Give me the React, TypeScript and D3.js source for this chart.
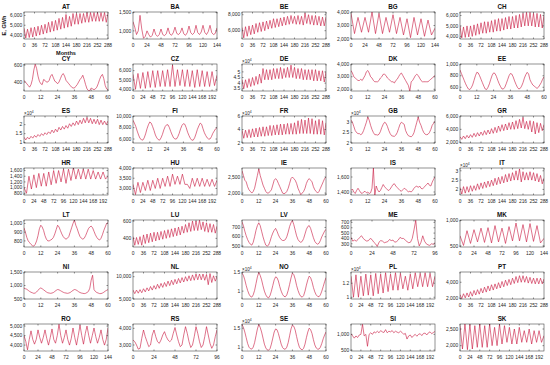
import React from "react";
import * as d3 from "d3";

// ---- tick label lists ----
const X288 = [0, 36, 72, 108, 144, 180, 216, 252, 288];
const X144 = [0, 24, 48, 72, 96, 120, 144];
const X204 = [0, 24, 48, 72, 96, 120, 144, 168, 192];
const X96 = [0, 24, 48, 72, 96];
const X60 = [0, 12, 24, 36, 48, 60];

// ---- series (E, GWh) ----
const AT = [4700,3700,4600,3750,4750,3800,4800,3900,4900,4000,5000,4100,5100,4200,5300,4300,5400,4400,5500,4500,5700,4600,5800,4700,6100,4800,5900,4900,6200,5100,6200,5100,6200,5200,6200,5300,6300,5300,6300,5400,6300,5400,6300,5400,6300,5400,6300,5300,6200];
const BA = [1250,1100,900,1000,1420,1050,800,850,1000,900,830,880,1050,900,850,900,1050,900,870,920,1080,920,880,950,1100,930,900,950,1080,920,880,950,1130,950,900,950,1150,950,900,970,1150,960,900,980,1150,950,900,930,1080];
const BE = [6400,5100,6500,5300,6600,5500,6700,5600,6900,5800,7000,5900,7100,6000,7200,6200,7300,6300,7500,6400,7500,6500,7600,6600,7700,6700,7800,6800,7900,6900,7800,6800,7900,6800,7800,6700,8200,6900,8000,6800,7900,6700,7900,6700,7800,6600,7700,6600,7700];
const BG = [3900,2400,3600,2500,3600,2500,4000,2400,3900,2400,3600,2500,3800,2400,3600,2300,3500,2100,3600,2300,3500,2200,3400,2300,2800];
const CH = [5000,3850,4900,3900,5000,3950,5000,4000,5100,4100,5200,4200,5300,4300,5400,4300,5400,4400,5500,4400,5600,4500,5700,4500,5700,4600,5800,4700,5900,4700,5900,4800,6000,4800,6100,4900,6200,5000,6300,5000,6300,5000,6200,4900,6200,4900,6100,4800,6000];
const CY = [420,400,380,360,340,370,430,540,610,560,470,410,380,370,430,420,400,400,420,470,490,450,410,400,380,400,440,480,500,470,420,400,380,360,340,330,330,350,370,400,430,450,480,430,370,320,300,300,330,320,310,320,340,380,430,470,490,440,360,320,310];
const CZ = [5600,4000,5700,4100,5800,4100,5900,4200,6000,4200,6000,4300,6000,4300,6100,4300,6600,4300,6100,4400,6100,4300,6100,4300,6000,4200,6100,4300,6000,4300,5900,4300,5900,4400,5500];
const DE = [4.3,3.5,4.3,3.6,4.4,3.7,4.5,3.8,4.6,3.9,4.8,4.0,5.3,4.3,5.2,4.3,5.2,4.3,5.3,4.4,5.3,4.4,5.4,4.4,5.3,4.5,5.4,4.5,5.6,4.5,5.4,4.4,5.3,4.4,5.3,4.3,5.2,4.3,5.2,4.3,5.2,4.2,5.2,4.2,5.1,4.2,5.1,4.1,5.0];
const DK = [3500,3300,3000,2900,2800,2700,2700,2800,2700,2900,3100,3400,3500,3300,3000,2900,2700,2600,2600,2600,2700,2900,3000,3200,3200,3100,2900,2800,2700,2600,2600,2500,2700,2800,3000,3200,3300,3100,2900,2700,2500,2300,1850,2600,2700,2900,3100,3200,3100,2900,2700,2600,2600,2600,2600,2600,2700,2800,2900,3000,3100];
const EE = [900,840,780,720,660,610,570,560,590,640,720,800,860,850,800,740,680,620,570,560,600,660,740,810,850,840,790,720,660,610,570,570,600,660,730,800,840,830,780,710,650,600,570,580,620,680,760,820,860,830,730,680,640,620,600,580,600,640,680,740,780];
const ES = [1.3,1.15,1.3,1.2,1.35,1.25,1.4,1.3,1.45,1.35,1.5,1.4,1.55,1.45,1.6,1.5,1.7,1.55,1.75,1.6,1.85,1.7,1.9,1.75,1.95,1.8,2.05,1.9,2.1,1.95,2.2,2.0,2.25,2.05,2.35,2.1,2.4,2.1,2.35,2.05,2.3,2.05,2.3,2.0,2.25,2.0,2.2,2.0,2.2];
const FI = [9300,8800,8200,7400,6700,6100,5900,5800,6200,6900,7800,8500,9000,8800,8200,7500,6700,6200,5900,5800,6200,6800,7600,8200,8500,8500,8000,7300,6700,6200,6000,6000,6400,7000,7800,8400,8700,8600,8000,7200,6600,6100,5800,5800,6200,6900,7700,8300,8800,8600,7800,7100,6600,6200,6000,6000,6400,7000,7400,7800,8000];
const FR = [3.9,2.7,3.9,2.8,4.0,2.8,4.1,2.9,4.2,2.9,4.3,3.0,4.4,3.0,4.4,3.1,4.6,3.1,4.6,3.2,4.7,3.2,4.8,3.2,4.8,3.3,4.9,3.3,4.9,3.3,5.0,3.3,5.3,3.4,5.5,3.4,5.4,3.4,5.7,3.4,5.6,3.3,5.3,3.3,5.5,3.3,5.3,3.2,5.0];
const GB = [3.1,3.0,2.8,2.6,2.5,2.45,2.45,2.4,2.45,2.6,2.8,3.0,3.25,3.1,2.85,2.65,2.5,2.4,2.4,2.38,2.42,2.55,2.75,2.9,3.0,2.95,2.8,2.6,2.45,2.35,2.33,2.32,2.38,2.5,2.7,2.9,3.0,2.95,2.9,2.6,2.45,2.35,2.32,2.3,2.36,2.5,2.75,3.0,3.25,3.0,2.85,2.65,2.5,2.42,2.4,2.42,2.5,2.65,2.85,2.95,3.05];
const GR = [2900,2500,3000,2600,3100,2700,3200,2800,3400,2900,3500,3000,3600,3100,3800,3200,3900,3300,4100,3400,4300,3500,4500,3700,4700,3800,4800,3900,5000,4000,5100,4000,5300,4100,5500,4200,5800,4100,5200,4000,5300,3600,5200,3300,5000,3500,4900,3800,4700];
const HR = [1000,800,1400,950,1450,1000,1500,1050,1500,1050,1550,1100,1600,1150,1600,1200,1650,1150,1650,1250,1700,1300,1650,1300,1650,1300,1650,1300,1600,1300,1550,1300,1550,1300,1400];
const HU = [3200,2700,3300,2800,3300,2900,3400,2900,3400,3000,3500,3000,3500,3100,3600,3100,3700,3200,3600,3200,3700,3200,3200,3000,3500,3100,3500,3100,3500,3100,3450,3100,3450,3100,3400];
const IE = [2700,2550,2400,2350,2200,2100,2050,2000,2050,2150,2350,2550,2750,2550,2400,2250,2150,2050,2000,2000,2050,2100,2250,2400,2450,2400,2300,2200,2100,2000,1980,2000,2050,2150,2300,2450,2500,2450,2400,2300,2150,2050,1950,2000,2050,2150,2300,2400,2450,2400,2350,2200,2100,2050,2000,2050,2150,2250,2350,2450,2500];
const IS = [1420,1440,1400,1380,1420,1450,1420,1390,1380,1400,1410,1390,1400,1380,1390,1450,1720,1350,1480,1430,1400,1420,1460,1500,1470,1450,1430,1420,1440,1470,1500,1510,1480,1460,1440,1420,1410,1430,1450,1440,1420,1400,1410,1400,1420,1450,1470,1480,1460,1480,1450,1440,1460,1480,1500,1520,1490,1480,1530,1570,1600];
const IT = [2.1,1.75,2.15,1.8,2.15,1.85,2.2,1.9,2.2,1.95,2.3,2.0,2.35,2.05,2.4,2.1,2.45,2.15,2.5,2.2,2.6,2.25,2.65,2.3,2.7,2.35,2.8,2.4,2.85,2.45,2.9,2.5,3.0,2.5,3.1,2.4,2.95,2.5,2.9,2.5,2.95,2.5,2.9,2.45,2.85,2.4,2.75,2.3,2.6];
const LT = [950,900,840,800,780,760,745,740,760,800,860,940,980,960,920,860,820,800,800,810,820,840,880,930,980,960,920,880,850,830,820,830,850,900,950,1000,1040,980,940,890,850,830,820,830,860,900,940,960,970,950,910,870,840,820,810,830,870,920,960,1000,1010];
const LU = [420,320,410,330,420,320,440,340,450,350,460,360,470,370,470,380,480,390,490,400,500,410,510,420,520,430,530,440,540,460,560,470,580,480,600,490,600,490,610,500,590,480,580,470,570,470,560,460,540];
const LV = [760,720,660,610,570,540,520,510,540,600,670,720,750,720,660,600,550,510,500,510,550,600,640,670,690,660,620,590,570,560,560,570,600,650,710,750,775,730,670,610,570,550,540,550,580,630,680,710,720,690,640,590,550,530,520,530,560,600,630,660,680];
const ME = [420,350,370,350,380,420,450,400,370,350,360,400,380,330,300,250,330,360,350,320,330,340,380,360,370,330,340,370,420,400,400,370,340,320,330,400,560,740,400,260,330,450,350,300,280,270,300,290,320];
const MK = [700,510,800,550,820,580,850,570,860,560,900,580,850,550,880,600,950,600,920,580,940,590,900,560,650];
const NI = [900,880,860,820,780,750,730,710,720,760,820,880,910,880,840,800,760,730,720,710,720,740,780,820,850,840,810,780,750,730,720,710,720,740,780,820,850,840,810,770,740,720,710,700,710,740,780,900,1200,1380,850,780,740,720,700,700,720,750,790,820,850];
const NL = [7000,6200,7000,6300,7100,6400,7300,6600,7500,6800,7800,7000,8000,7200,8300,7400,8500,7600,8700,7800,9000,8000,9200,8200,9400,8400,9600,8600,9800,8800,10000,9000,10200,9100,10400,9200,10600,9300,10600,9300,10600,9200,10500,8200,10700,8700,10200,9000,10000];
const NO = [1.48,1.42,1.3,1.15,1.02,0.92,0.86,0.84,0.9,1.02,1.2,1.38,1.5,1.42,1.3,1.14,1.0,0.9,0.84,0.82,0.88,1.0,1.15,1.3,1.38,1.36,1.27,1.12,1.0,0.91,0.86,0.85,0.9,1.02,1.18,1.35,1.48,1.44,1.32,1.15,1.02,0.92,0.86,0.84,0.88,1.0,1.16,1.3,1.4,1.36,1.25,1.1,0.98,0.9,0.86,0.85,0.9,1.0,1.12,1.25,1.36];
const PL = [1.3,1.0,1.32,1.0,1.3,1.02,1.33,1.03,1.32,1.02,1.34,1.05,1.33,1.06,1.35,1.08,1.33,1.1,1.35,1.1,1.34,1.12,1.3,1.1,1.33,1.12,1.35,1.15,1.34,1.15,1.35,1.15,1.34,1.15,1.3];
const PT = [2500,2000,2600,2100,2700,2200,2850,2300,3000,2450,3100,2550,3250,2700,3400,2800,3550,2950,3700,3050,3800,3200,3950,3300,4100,3450,4250,3600,4350,3700,4500,3850,4700,3950,4800,4000,4800,4000,4700,3900,4600,3850,4500,3800,4500,3800,4500,3800,4400];
const RO = [4500,4200,3750,4300,4750,4300,4050,4300,4800,4400,4100,4400,4800,4350,4000,4400,4850,4300,4100,4500,5100,4500,4100,4400,4800,4300,4000,4350,4900,4400,4000,4500,5050,4500,4050,4600,5000,4500,4100,4500,4900,4450,4100,4400,4800,4300,4000,4300,4900];
const RS = [3300,3200,3000,2750,2800,3400,3900,3500,3200,2900,3000,3600,3900,3500,3200,3100,3300,3600,3800,3500,3300,3200,3300,3700,4050,3600,3200,2900,3000,3600,4100,3700,3200,2850,3000,3500,4100,3700,3200,2850,3000,3500,4100,3600,3100,2800,3000,3500,3900];
const SE = [1.6,1.52,1.4,1.25,1.1,1.0,0.96,0.95,1.0,1.12,1.3,1.48,1.6,1.52,1.4,1.24,1.08,0.98,0.93,0.92,0.96,1.08,1.24,1.4,1.48,1.46,1.36,1.22,1.08,0.99,0.95,0.95,1.0,1.12,1.3,1.48,1.58,1.55,1.45,1.28,1.12,1.0,0.95,0.93,0.97,1.08,1.25,1.4,1.5,1.46,1.36,1.2,1.06,0.98,0.95,0.95,1.0,1.1,1.22,1.32,1.4];
const SI = [1020,950,880,950,900,980,1000,1320,950,1000,620,1000,1050,1000,1080,1050,1100,1050,1120,1080,1060,1150,1050,1100,1080,1120,1050,1100,1070,1050,1100,1060,1000,1030,850,950,980,900,960,1000,940,1000,1020,960,1030,1040,980,1050,1080,1020,1060,1090];
const SK = [2600,1900,2650,1880,2640,1900,2600,1950,2650,1950,2600,1950,2650,2000,2550,2000,2640,2050,2600,2100,2550,2050,2500,2050,2550,2100,2450,2100,2500,2050,2450,2100,2450,2100,2300];

type Panel = {
  name: string;
  data: number[];
  step: number;
  xMax: number;
  xTicks: number[];
  yDom: [number, number];
  yTicks: number[];
  exp?: boolean;
};

const PANELS: Panel[] = [
  { name: "AT", data: AT, step: 6, xMax: 288, xTicks: X288, yDom: [3600, 6350], yTicks: [4000, 5000, 6000] },
  { name: "BA", data: BA, step: 3, xMax: 144, xTicks: X144, yDom: [780, 1510], yTicks: [1000, 1500] },
  { name: "BE", data: BE, step: 6, xMax: 288, xTicks: X288, yDom: [4960, 8340], yTicks: [6000, 8000] },
  { name: "BG", data: BG, step: 6, xMax: 144, xTicks: X144, yDom: [2000, 4000], yTicks: [2000, 3000, 4000] },
  { name: "CH", data: CH, step: 6, xMax: 288, xTicks: X288, yDom: [3750, 6330], yTicks: [4000, 5000, 6000] },
  { name: "CY", data: CY, step: 1, xMax: 60, xTicks: X60, yDom: [295, 612], yTicks: [400, 600] },
  { name: "CZ", data: CZ, step: 6, xMax: 204, xTicks: X204, yDom: [3820, 6710], yTicks: [4000, 5000, 6000] },
  { name: "DE", data: DE, step: 6, xMax: 288, xTicks: X288, yDom: [3.3, 5.7], yTicks: [3.5, 4, 4.5, 5], exp: true },
  { name: "DK", data: DK, step: 1, xMax: 60, xTicks: X60, yDom: [1860, 4020], yTicks: [2000, 3000, 4000] },
  { name: "EE", data: EE, step: 1, xMax: 60, xTicks: X60, yDom: [535, 1005], yTicks: [600, 800, 1000] },
  { name: "ES", data: ES, step: 6, xMax: 288, xTicks: X288, yDom: [0.98, 2.48], yTicks: [1, 1.5, 2], exp: true },
  { name: "FI", data: FI, step: 1, xMax: 60, xTicks: X60, yDom: [5300, 10050], yTicks: [6000, 8000, 10000] },
  { name: "FR", data: FR, step: 6, xMax: 288, xTicks: X288, yDom: [2, 6], yTicks: [2, 4, 6], exp: true },
  { name: "GB", data: GB, step: 1, xMax: 60, xTicks: X60, yDom: [2, 3.3], yTicks: [2, 2.5, 3], exp: true },
  { name: "GR", data: GR, step: 6, xMax: 288, xTicks: X288, yDom: [1950, 6000], yTicks: [2000, 4000, 6000] },
  { name: "HR", data: HR, step: 6, xMax: 204, xTicks: X204, yDom: [740, 1690], yTicks: [800, 1000, 1200, 1400, 1600] },
  { name: "HU", data: HU, step: 6, xMax: 204, xTicks: X204, yDom: [2680, 4000], yTicks: [3000, 3500, 4000] },
  { name: "IE", data: IE, step: 1, xMax: 60, xTicks: X60, yDom: [1940, 2780], yTicks: [2000, 2500] },
  { name: "IS", data: IS, step: 1, xMax: 60, xTicks: X60, yDom: [1360, 1720], yTicks: [1400, 1600] },
  { name: "IT", data: IT, step: 6, xMax: 288, xTicks: X288, yDom: [1.7, 3.15], yTicks: [2, 2.5, 3], exp: true },
  { name: "LT", data: LT, step: 1, xMax: 60, xTicks: X60, yDom: [730, 1040], yTicks: [800, 900, 1000] },
  { name: "LU", data: LU, step: 6, xMax: 288, xTicks: X288, yDom: [300, 612], yTicks: [400, 600] },
  { name: "LV", data: LV, step: 1, xMax: 60, xTicks: X60, yDom: [490, 780], yTicks: [500, 600, 700] },
  { name: "ME", data: ME, step: 2, xMax: 96, xTicks: X96, yDom: [240, 745], yTicks: [300, 400, 500, 600, 700] },
  { name: "MK", data: MK, step: 6, xMax: 144, xTicks: X144, yDom: [480, 1010], yTicks: [500, 1000] },
  { name: "NI", data: NI, step: 1, xMax: 60, xTicks: X60, yDom: [500, 1500], yTicks: [500, 1000, 1500] },
  { name: "NL", data: NL, step: 6, xMax: 288, xTicks: X288, yDom: [5000, 11050], yTicks: [5000, 10000] },
  { name: "NO", data: NO, step: 1, xMax: 60, xTicks: X60, yDom: [0.79, 1.51], yTicks: [1, 1.5], exp: true },
  { name: "PL", data: PL, step: 6, xMax: 204, xTicks: X204, yDom: [0.975, 1.36], yTicks: [1, 1.2], exp: true },
  { name: "PT", data: PT, step: 6, xMax: 288, xTicks: X288, yDom: [1960, 5250], yTicks: [2000, 4000] },
  { name: "RO", data: RO, step: 3, xMax: 144, xTicks: X144, yDom: [3690, 5110], yTicks: [4000, 4500, 5000] },
  { name: "RS", data: RS, step: 2, xMax: 96, xTicks: X96, yDom: [2640, 4260], yTicks: [3000, 4000] },
  { name: "SE", data: SE, step: 1, xMax: 60, xTicks: X60, yDom: [0.9, 1.61], yTicks: [1, 1.5], exp: true },
  { name: "SI", data: SI, step: 4, xMax: 204, xTicks: X204, yDom: [470, 1330], yTicks: [500, 1000] },
  { name: "SK", data: SK, step: 6, xMax: 204, xTicks: X204, yDom: [1840, 2650], yTicks: [2000, 2500] },
];

const FONT = "'Liberation Sans', Arial, Helvetica, sans-serif";
const LEFT0 = 24, COLP = 109, PW = 84;
const TOP0 = 12, ROWP = 52, PH = 27;
const AXC = "#262626";
const LINEC = "#c8143c";
const TICKFS = 4.9;

function PanelView({ p, idx }: { p: Panel; idx: number }) {
  const col = idx % 5, row = Math.floor(idx / 5);
  const x0 = LEFT0 + col * COLP, y0 = TOP0 + row * ROWP;
  const x = d3.scaleLinear().domain([0, p.xMax]).range([x0, x0 + PW]);
  const y = d3.scaleLinear().domain(p.yDom).range([y0 + PH, y0]);
  const line = d3.line<number>().x((_, i) => x(i * p.step)).y((d) => y(d));
  const fmt = p.exp ? d3.format("") : d3.format(",");
  const clipId = "clip-" + p.name;
  const tl = 1.5;
  return (
    <g>
      <clipPath id={clipId}>
        <rect x={x0} y={y0} width={PW} height={PH} />
      </clipPath>
      <rect x={x0} y={y0} width={PW} height={PH} fill="#fff" />
      <path d={line(p.data) || ""} fill="none" stroke={LINEC} strokeWidth={0.6} strokeLinejoin="round" clipPath={`url(#${clipId})`} />
      <rect x={x0} y={y0} width={PW} height={PH} fill="none" stroke={AXC} strokeWidth={0.5} />
      {p.xTicks.map((t) => (
        <g key={"x" + t}>
          <line x1={x(t)} x2={x(t)} y1={y0 + PH} y2={y0 + PH - tl} stroke={AXC} strokeWidth={0.5} />
          <line x1={x(t)} x2={x(t)} y1={y0} y2={y0 + tl} stroke={AXC} strokeWidth={0.5} />
          <text x={x(t)} y={y0 + PH + 8.3} textAnchor="middle" fontSize={TICKFS} fill={AXC} fontFamily={FONT}>
            {t}
          </text>
        </g>
      ))}
      {p.yTicks.map((t) => (
        <g key={"y" + t}>
          <line x1={x0} x2={x0 + tl} y1={y(t)} y2={y(t)} stroke={AXC} strokeWidth={0.5} />
          <line x1={x0 + PW} x2={x0 + PW - tl} y1={y(t)} y2={y(t)} stroke={AXC} strokeWidth={0.5} />
          <text x={x0 - 1.8} y={y(t)} dy="0.35em" textAnchor="end" fontSize={TICKFS} fill={AXC} fontFamily={FONT}>
            {fmt(t)}
          </text>
        </g>
      ))}
      {p.exp && (
        <text x={x0} y={y0 - 1.3} fontSize={4.6} fill={AXC} fontFamily={FONT}>
          ×10
          <tspan dy={-1.8} fontSize={3.4}>4</tspan>
        </text>
      )}
      <text x={x0 + PW / 2} y={y0 - 2.6} textAnchor="middle" fontSize={6.3} fontWeight="bold" fill="#111" fontFamily={FONT}>
        {p.name}
      </text>
    </g>
  );
}

export default function App() {
  return (
    <svg width={550} height={365} style={{ position: "absolute", left: 0, top: 0, background: "#fff" }}>
      <rect width={550} height={365} fill="#fff" />
      {PANELS.map((p, i) => (
        <PanelView key={p.name} p={p} idx={i} />
      ))}
      <text transform="translate(5.5,25.5) rotate(-90)" textAnchor="middle" fontSize={5.6} fontWeight="bold" fill="#111" fontFamily={FONT}>
        E, GWh
      </text>
      <text x={66} y={55} textAnchor="middle" fontSize={5.6} fontWeight="bold" fill="#111" fontFamily={FONT}>
        Months
      </text>
    </svg>
  );
}
